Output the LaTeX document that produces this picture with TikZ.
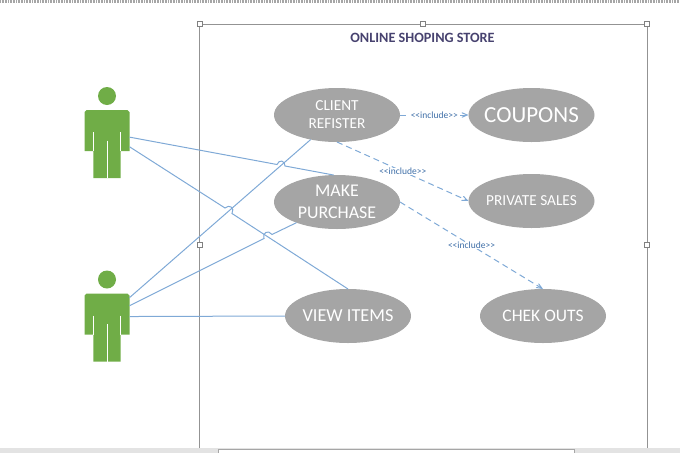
\documentclass[tikz,border=0pt]{standalone}
\usepackage{xcolor}
\usepackage{fontspec}
\setmainfont{Carlito}
\usetikzlibrary{arrows,shapes,positioning}
\definecolor{usegray}{HTML}{A5A5A5}
\definecolor{linkblue}{HTML}{7FA9D6}
\definecolor{inclblue}{HTML}{3F6FA8}
\definecolor{actgreen}{HTML}{70AD47}
\definecolor{titleink}{HTML}{47426F}
\tikzset{
    usecase/.style={draw=none,fill=usegray,ellipse,minimum width=126pt,minimum height=54pt,
        inner sep=-16pt,outer sep=0pt,text=white,align=center},
    actorbody/.style={rectangle,minimum width=45pt,minimum height=68pt,inner sep=0pt,outer sep=0pt},
    handle/.style={draw=gray,fill=white,rectangle,minimum size=5pt,inner sep=0pt,line width=.5pt},
    assoc/.style={draw=linkblue,line width=1pt},
    hop/.style={bend left=80,looseness=1.8},
    incl/.style={draw=linkblue,line width=1pt,dashed,dash pattern=on 6pt off 4pt,->},
    incllabel/.style={fill=white,inner sep=.5pt,text=inclblue,font=\fontsize{9.5}{10}\selectfont},
    actor/.pic={
        \fill[actgreen] (0,-48) circle (9);
        \fill[actgreen] (-22.5,-32) -- (-20.5,-34) -- (20.5,-34) -- (22.5,-32) -- (22.5,7) -- (13.7,7)
            -- (13.7,34) -- (-13.7,34) -- (-13.7,7) -- (-22.5,7) -- cycle;
        \draw[white,line width=.6pt] (-13.7,-12) -- (-13.7,7);
        \draw[white,line width=.6pt] (13.7,-12) -- (13.7,7);
        \draw[white,line width=.6pt] (0,-3.3) -- (0,34);
    },
}
\newcommand{\incltext}{\textless\kern0pt\textless\kern0pt include\textgreater\kern0pt\textgreater}
\begin{document}
\begin{tikzpicture}[x=1pt,y=-1pt,>=angle 45]
    \useasboundingbox (0,0) rectangle (680,453);
    % window edges
    \fill[gray!22] (0,448) rectangle (680,453);
    \draw[gray!70,fill=white,line width=.7pt] (218,453) -- (218,449.5) -- (574,449.5) -- (574,453);
    \draw[gray!70,line width=3pt,dash pattern=on 1pt off .6pt] (0,1.5)--(680,1.5);
    % system frame
    \draw[gray!85,line width=.8pt] (199.5,448) -- (199.5,24) -- (647,24) -- (647,448);
    \path
        (199.5,24)  node[handle] (hnw){}
     ++ (223.5,0)   node[handle] (hn){}
     ++ (224,0)     node[handle] (hne){}
     ++ (0,221)     node[handle] (he){}
     ++ (-447.5,0)  node[handle] (hw){}
     ;
    \node[text=titleink,font=\fontsize{14.2}{14}\selectfont\bfseries] (title) at (422.5,37.5) {ONLINE SHOPING STORE};
    % use cases
    \path
        (337,115)   node[usecase,font=\fontsize{15.3}{18}\selectfont] (client){CLIENT\\REFISTER}
     ++ (0,87)      node[usecase,font=\fontsize{17.9}{22}\selectfont] (make){MAKE\\PURCHASE}
     ++ (11,114)    node[usecase,font=\fontsize{18.3}{20}\selectfont] (view){VIEW ITEMS}
     ++ (195,0)     node[usecase,font=\fontsize{17.5}{20}\selectfont] (chek){CHEK OUTS}
     ++ (-11.5,-115) node[usecase,font=\fontsize{15.3}{20}\selectfont] (private){PRIVATE SALES}
     ++ (0,-86)     node[usecase,font=\fontsize{23}{24}\selectfont] (coupons){COUPONS}
     ;
    % actors
    \path
        (107,144)   node[actorbody] (custa){}
     ++ (0,183.5)   node[actorbody] (custb){}
     ;
    \pic at (custa) {actor};
    \pic at (custb) {actor};
    % hops
    \coordinate (hopain) at (277,164.5);
    \coordinate (hopaout) at (285,166);
    \coordinate (hopbin) at (225,208);
    \coordinate (hopbout) at (232,213.5);
    \coordinate (hopcin) at (264,238.5);
    \coordinate (hopcout) at (272,234.5);
    \draw [assoc] (custa.17)--(hopain) to[hop] (hopaout)--(make.97);
    \draw [assoc] (custa.-7)--(hopbin) to[hop] (hopbout)--(view.north);
    \draw [assoc] (custb.53)--(client.223);
    \draw [assoc] (custb.44)--(hopcin) to[hop] (hopcout)--(make.207);
    \draw [assoc] (custb.26.565)--(view.west);
    \draw [incl] (client.east)--node[incllabel]{\incltext}(coupons.west);
    \draw [incl] (client.south)--node[incllabel]{\incltext}(private.west);
    \draw [incl] (make.east)--node[incllabel]{\incltext}(chek.north);
\end{tikzpicture}
\end{document}
